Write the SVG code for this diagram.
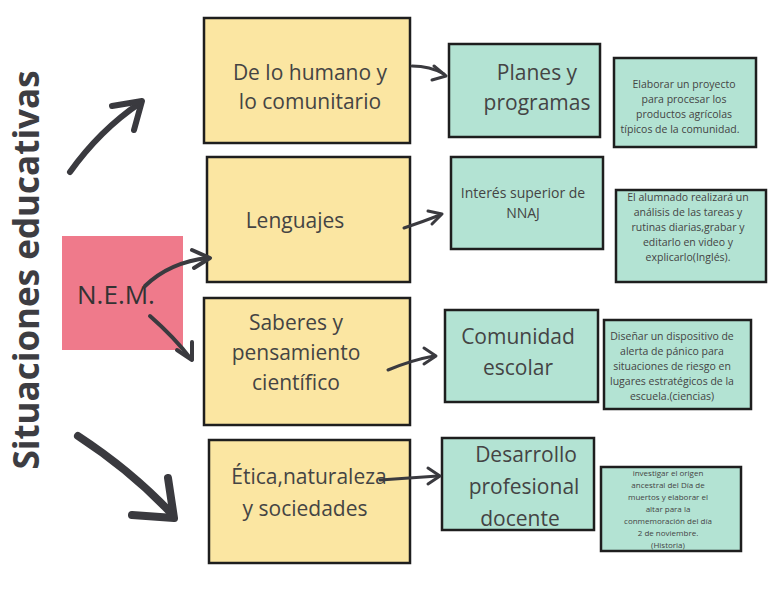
<svg xmlns="http://www.w3.org/2000/svg" width="768" height="593" viewBox="0 0 768 593">
<defs>
<style>
.y{fill:#fbe6a2;stroke:#1e1e1e;stroke-width:2.5}
.t{fill:#b3e3d3;stroke:#1e1e1e;stroke-width:2.5}
.p{fill:#ef7a8b}
text{font-family:"Open Sans","Noto Sans",sans-serif;fill:#444;text-anchor:middle}
.b{font-size:21px}
.s{font-size:10.5px}
.xs{font-size:8px}
.c path{fill:none;stroke:#3a3a3f;stroke-linecap:round;stroke-linejoin:round}
</style>
</defs>
<rect width="768" height="593" fill="#fff"/>
<text x="0" y="0" transform="translate(39,270) rotate(-90)" style="font-size:35px;font-weight:bold;fill:#3d3d42">Situaciones educativas</text>
<g id="nem"><rect class="p" x="62" y="236" width="121" height="114"/><text x="116" y="304" style="font-size:26px;fill:#333">N.E.M.</text></g>
<g id="y1"><rect class="y" x="204" y="18" width="206" height="125"/><text class="b" x="310" y="80">De lo humano y</text><text class="b" x="310" y="109">lo comunitario</text></g>
<g id="y2"><rect class="y" x="207" y="157" width="203" height="125"/><text class="b" x="295" y="228">Lenguajes</text></g>
<g id="y3"><rect class="y" x="204" y="298" width="206" height="127"/><text class="b" x="296" y="330">Saberes y</text><text class="b" x="296" y="360">pensamiento</text><text class="b" x="296" y="390">científico</text></g>
<g id="y4"><rect class="y" x="209" y="440" width="201" height="123"/><text class="b" x="309" y="484">Ética,naturaleza</text><text class="b" x="305" y="516">y sociedades</text></g>
<g id="t1"><rect class="t" x="449" y="44" width="151" height="93"/><text class="b" x="537" y="80">Planes y</text><text class="b" x="537" y="110">programas</text></g>
<g id="t2"><rect class="t" x="451" y="157" width="152" height="92"/><text x="523" y="198" style="font-size:14px">Interés superior de</text><text x="523" y="218" style="font-size:14px">NNAJ</text></g>
<g id="t3"><rect class="t" x="445" y="310" width="153" height="92"/><text class="b" x="518" y="344">Comunidad</text><text class="b" x="518" y="375">escolar</text></g>
<g id="t4"><rect class="t" x="442" y="438" width="152" height="92"/><text class="b" x="526" y="462">Desarrollo</text><text class="b" x="524" y="494">profesional</text><text class="b" x="520" y="526">docente</text></g>
<g id="s1"><rect class="t" x="614" y="58" width="142" height="89"/><text class="s" x="684" y="88">Elaborar un proyecto</text><text class="s" x="684" y="103">para procesar los</text><text class="s" x="684" y="118">productos agrícolas</text><text class="s" x="680" y="133">típicos de la comunidad.</text></g>
<g id="s2"><rect class="t" x="616" y="190" width="150" height="92"/><text class="s" x="688" y="201">El alumnado realizará un</text><text class="s" x="688" y="216">análisis de las tareas  y</text><text class="s" x="688" y="231">rutinas diarias,grabar y</text><text class="s" x="688" y="246">editarlo en video y</text><text class="s" x="688" y="261">explicarlo(Inglés).</text></g>
<g id="s3"><rect class="t" x="604" y="320" width="147" height="89"/><text class="s" x="672" y="340">Diseñar un dispositivo de</text><text class="s" x="672" y="355">alerta de pánico para</text><text class="s" x="672" y="370">situaciones de riesgo en</text><text class="s" x="672" y="385">lugares estratégicos de la</text><text class="s" x="672" y="400">escuela.(ciencias)</text></g>
<g id="s4"><rect class="t" x="601" y="467" width="140" height="84"/><text class="xs" x="668" y="476">investigar el origen</text><text class="xs" x="668" y="488">ancestral del Día de</text><text class="xs" x="668" y="500">muertos y elaborar el</text><text class="xs" x="668" y="512">altar para la</text><text class="xs" x="668" y="524">conmemoración del día</text><text class="xs" x="668" y="536">2 de noviembre.</text><text class="xs" x="668" y="548">(Historia)</text></g>
<g class="c">
<path d="M70 172 Q100 130 140 103" stroke-width="6"/><path d="M112 106 L142 101 L134 130" stroke-width="6"/>
<path d="M78 436 Q130 470 170 512" stroke-width="8"/><path d="M168 478 L174 518 L132 515" stroke-width="8"/>
<path d="M145 286 Q170 262 208 258" stroke-width="4"/><path d="M192 250 L210 258 L194 268" stroke-width="4"/>
<path d="M150 316 Q175 338 190 358" stroke-width="4"/><path d="M177 350 L192 360 L192 342" stroke-width="4"/>
<path d="M412 66 Q430 66 444 74" stroke-width="3"/><path d="M434 66 L446 76 L432 80" stroke-width="3"/>
<path d="M404 228 Q422 222 440 215" stroke-width="3"/><path d="M428 211 L442 214 L432 224" stroke-width="3"/>
<path d="M388 370 Q412 360 434 356" stroke-width="3"/><path d="M424 348 L436 356 L424 364" stroke-width="3"/>
<path d="M380 480 Q410 478 438 476" stroke-width="3"/><path d="M428 468 L440 476 L428 484" stroke-width="3"/>
</g>
</svg>
